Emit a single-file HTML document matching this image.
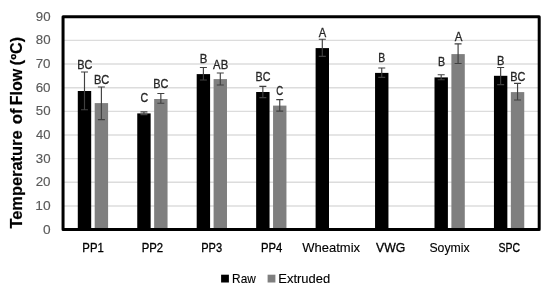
<!DOCTYPE html>
<html lang="en"><head><meta charset="utf-8"><title>Temperature of Flow</title>
<style>
html,body{margin:0;padding:0;background:#fff;}
body{width:550px;height:291px;overflow:hidden;}
svg{display:block;font-family:"Liberation Sans",sans-serif;}
</style></head><body>
<svg width="550" height="291" viewBox="0 0 550 291">
<rect x="0" y="0" width="550" height="291" fill="#fff"/>
<line x1="63.05" x2="539.2" y1="205.95" y2="205.95" stroke="#dcdcdc" stroke-width="1.4"/>
<line x1="63.05" x2="539.2" y1="182.30" y2="182.30" stroke="#dcdcdc" stroke-width="1.4"/>
<line x1="63.05" x2="539.2" y1="158.65" y2="158.65" stroke="#dcdcdc" stroke-width="1.4"/>
<line x1="63.05" x2="539.2" y1="135.00" y2="135.00" stroke="#dcdcdc" stroke-width="1.4"/>
<line x1="63.05" x2="539.2" y1="111.35" y2="111.35" stroke="#dcdcdc" stroke-width="1.4"/>
<line x1="63.05" x2="539.2" y1="87.70" y2="87.70" stroke="#dcdcdc" stroke-width="1.4"/>
<line x1="63.05" x2="539.2" y1="64.05" y2="64.05" stroke="#dcdcdc" stroke-width="1.4"/>
<line x1="63.05" x2="539.2" y1="40.40" y2="40.40" stroke="#dcdcdc" stroke-width="1.4"/>
<rect x="77.79" y="91.00" width="13.4" height="138.60" fill="#000"/>
<rect x="94.69" y="103.10" width="13.4" height="126.50" fill="#7f7f7f"/>
<rect x="137.25" y="113.40" width="13.4" height="116.20" fill="#000"/>
<rect x="154.15" y="99.00" width="13.4" height="130.60" fill="#7f7f7f"/>
<rect x="196.69" y="74.10" width="13.4" height="155.50" fill="#000"/>
<rect x="213.59" y="79.10" width="13.4" height="150.50" fill="#7f7f7f"/>
<rect x="256.15" y="92.00" width="13.4" height="137.60" fill="#000"/>
<rect x="273.05" y="105.60" width="13.4" height="124.00" fill="#7f7f7f"/>
<rect x="315.60" y="48.10" width="13.4" height="181.50" fill="#000"/>
<rect x="375.05" y="72.90" width="13.4" height="156.70" fill="#000"/>
<rect x="434.50" y="77.40" width="13.4" height="152.20" fill="#000"/>
<rect x="451.39" y="54.10" width="13.4" height="175.50" fill="#7f7f7f"/>
<rect x="493.95" y="75.80" width="13.4" height="153.80" fill="#000"/>
<rect x="510.85" y="92.10" width="13.4" height="137.50" fill="#7f7f7f"/>
<path d="M84.49 72.00V109.70M80.99 72.00H87.99M80.99 109.70H87.99" stroke="#404040" stroke-width="1.15" fill="none"/>
<path d="M101.39 87.00V119.60M97.89 87.00H104.89M97.89 119.60H104.89" stroke="#404040" stroke-width="1.15" fill="none"/>
<path d="M143.94 111.90V114.60M140.44 111.90H147.44M140.44 114.60H147.44" stroke="#404040" stroke-width="1.15" fill="none"/>
<path d="M160.84 93.50V103.20M157.34 93.50H164.34M157.34 103.20H164.34" stroke="#404040" stroke-width="1.15" fill="none"/>
<path d="M203.39 67.50V80.00M199.89 67.50H206.89M199.89 80.00H206.89" stroke="#404040" stroke-width="1.15" fill="none"/>
<path d="M220.29 73.00V85.00M216.79 73.00H223.79M216.79 85.00H223.79" stroke="#404040" stroke-width="1.15" fill="none"/>
<path d="M262.85 86.40V97.60M259.35 86.40H266.35M259.35 97.60H266.35" stroke="#404040" stroke-width="1.15" fill="none"/>
<path d="M279.75 99.60V111.10M276.25 99.60H283.25M276.25 111.10H283.25" stroke="#404040" stroke-width="1.15" fill="none"/>
<path d="M322.30 39.20V56.30M318.80 39.20H325.80M318.80 56.30H325.80" stroke="#404040" stroke-width="1.15" fill="none"/>
<path d="M381.75 68.00V77.40M378.25 68.00H385.25M378.25 77.40H385.25" stroke="#404040" stroke-width="1.15" fill="none"/>
<path d="M441.19 74.70V79.70M437.69 74.70H444.69M437.69 79.70H444.69" stroke="#404040" stroke-width="1.15" fill="none"/>
<path d="M458.09 43.80V63.50M454.59 43.80H461.59M454.59 63.50H461.59" stroke="#404040" stroke-width="1.15" fill="none"/>
<path d="M500.65 67.50V84.60M497.15 67.50H504.15M497.15 84.60H504.15" stroke="#404040" stroke-width="1.15" fill="none"/>
<path d="M517.55 83.30V100.00M514.05 83.30H521.05M514.05 100.00H521.05" stroke="#404040" stroke-width="1.15" fill="none"/>
<rect x="63.05" y="16.75" width="476.15" height="212.85" fill="none" stroke="#000" stroke-width="3.0" stroke-linejoin="round"/>
<g font-size="12.25" fill="#262626" stroke="#262626" stroke-width="0.3">
<text x="77.15" y="68.80" textLength="15.17" lengthAdjust="spacingAndGlyphs">BC</text>
<text x="93.95" y="84.10" textLength="15.38" lengthAdjust="spacingAndGlyphs">BC</text>
<text x="140.53" y="102.10" textLength="7.69" lengthAdjust="spacingAndGlyphs">C</text>
<text x="153.25" y="87.90" textLength="15.17" lengthAdjust="spacingAndGlyphs">BC</text>
<text x="199.65" y="62.60" textLength="7.59" lengthAdjust="spacingAndGlyphs">B</text>
<text x="213.12" y="68.60" textLength="15.08" lengthAdjust="spacingAndGlyphs">AB</text>
<text x="255.55" y="81.30" textLength="14.88" lengthAdjust="spacingAndGlyphs">BC</text>
<text x="276.32" y="95.00" textLength="6.89" lengthAdjust="spacingAndGlyphs">C</text>
<text x="318.73" y="37.30" textLength="7.46" lengthAdjust="spacingAndGlyphs">A</text>
<text x="378.35" y="61.60" textLength="6.99" lengthAdjust="spacingAndGlyphs">B</text>
<text x="437.95" y="66.40" textLength="7.11" lengthAdjust="spacingAndGlyphs">B</text>
<text x="454.73" y="40.70" textLength="7.66" lengthAdjust="spacingAndGlyphs">A</text>
<text x="497.05" y="64.60" textLength="7.38" lengthAdjust="spacingAndGlyphs">B</text>
<text x="510.15" y="81.30" textLength="15.17" lengthAdjust="spacingAndGlyphs">BC</text>
</g>
<g font-size="12.35" fill="#595959" stroke="#595959" stroke-width="0.3">
<text x="43.00" y="233.70" stroke-width="0.12" textLength="7.61" lengthAdjust="spacingAndGlyphs">0</text>
<text x="35.30" y="210.02" stroke-width="0.12" textLength="15.32" lengthAdjust="spacingAndGlyphs">10</text>
<text x="35.67" y="186.33" stroke-width="0.12" textLength="14.88" lengthAdjust="spacingAndGlyphs">20</text>
<text x="35.80" y="162.65" stroke-width="0.12" textLength="14.73" lengthAdjust="spacingAndGlyphs">30</text>
<text x="36.05" y="138.97" stroke-width="0.12" textLength="14.46" lengthAdjust="spacingAndGlyphs">40</text>
<text x="35.80" y="115.28" stroke-width="0.12" textLength="14.74" lengthAdjust="spacingAndGlyphs">50</text>
<text x="35.67" y="91.60" stroke-width="0.12" textLength="14.88" lengthAdjust="spacingAndGlyphs">60</text>
<text x="35.67" y="67.92" stroke-width="0.12" textLength="14.88" lengthAdjust="spacingAndGlyphs">70</text>
<text x="35.80" y="44.23" stroke-width="0.12" textLength="14.74" lengthAdjust="spacingAndGlyphs">80</text>
<text x="35.80" y="20.55" stroke-width="0.12" textLength="14.74" lengthAdjust="spacingAndGlyphs">90</text>
</g>
<g font-size="12.25" fill="#000" stroke="#000" stroke-width="0.3">
<text x="82.35" y="251.80" textLength="21.40" lengthAdjust="spacingAndGlyphs">PP1</text>
<text x="141.65" y="251.80" textLength="21.40" lengthAdjust="spacingAndGlyphs">PP2</text>
<text x="201.25" y="251.80" textLength="20.86" lengthAdjust="spacingAndGlyphs">PP3</text>
<text x="261.05" y="251.80" textLength="21.32" lengthAdjust="spacingAndGlyphs">PP4</text>
<text x="302.20" y="251.80" stroke-width="0.12" textLength="57.93" lengthAdjust="spacingAndGlyphs">Wheatmix</text>
<text x="376.12" y="251.80" textLength="29.24" lengthAdjust="spacingAndGlyphs">VWG</text>
<text x="429.40" y="251.80" stroke-width="0.12" textLength="40.23" lengthAdjust="spacingAndGlyphs">Soymix</text>
<text x="498.43" y="251.80" textLength="21.55" lengthAdjust="spacingAndGlyphs">SPC</text>
</g>
<g font-size="12.25" fill="#000" stroke="#000" stroke-width="0.3">
<text x="232.12" y="283.00" stroke-width="0.12" textLength="23.68" lengthAdjust="spacingAndGlyphs">Raw</text>
<text x="278.30" y="283.00" stroke-width="0.12" textLength="51.81" lengthAdjust="spacingAndGlyphs">Extruded</text>
</g>
<rect x="221.1" y="274.7" width="7.8" height="7.8" fill="#000"/>
<rect x="267.6" y="274.7" width="7.8" height="7.8" fill="#7f7f7f"/>
<text transform="translate(22.0,228.5) rotate(-90)" font-size="16.4" font-weight="bold" fill="#000" stroke="#000" stroke-width="0.2"><tspan x="-0.12" y="0" textLength="98.23" lengthAdjust="spacingAndGlyphs">Temperature</tspan> <tspan x="104.20" y="0" textLength="15.79" lengthAdjust="spacingAndGlyphs">of</tspan> <tspan x="123.20" y="0" textLength="36.50" lengthAdjust="spacingAndGlyphs">Flow</tspan> <tspan x="163.35" y="0" textLength="28.15" lengthAdjust="spacingAndGlyphs">(ºC)</tspan></text>
</svg>
</body></html>
